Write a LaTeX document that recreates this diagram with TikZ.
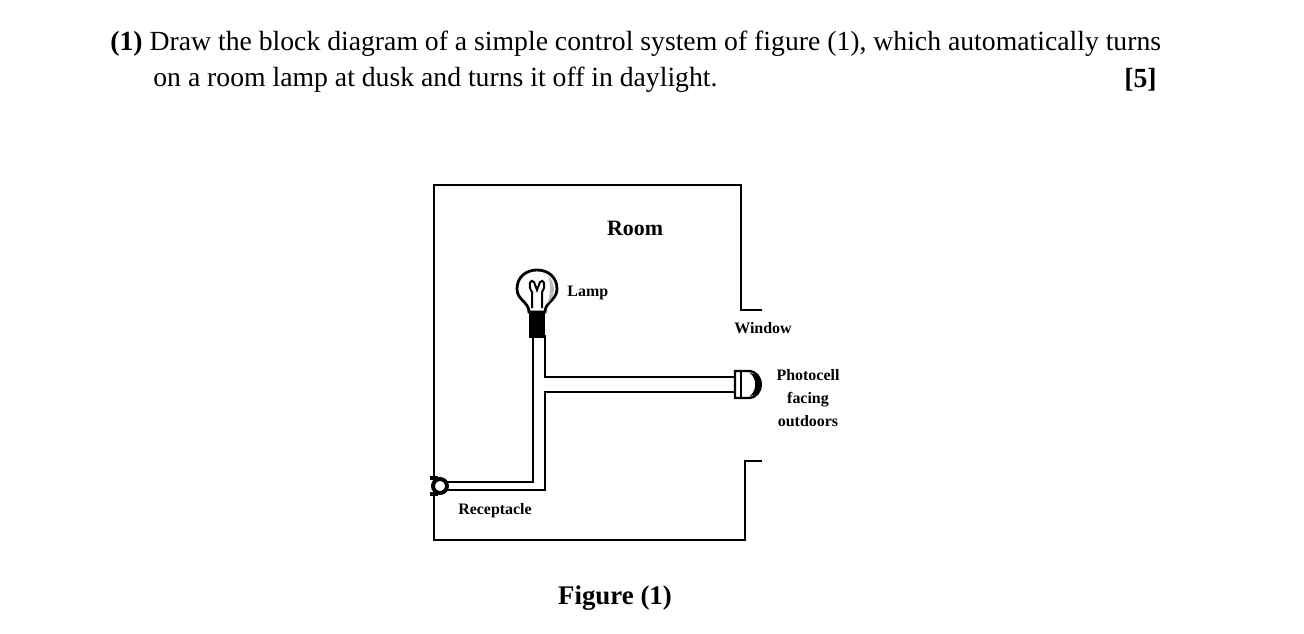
\documentclass[tikz,border=0pt]{standalone}
\usepackage{fontspec}
\setmainfont{Liberation Serif}
\begin{document}
\begin{tikzpicture}[x=0.5bp,y=-0.5bp,
  wall/.style={line width=1.3bp},
  wire/.style={line width=1.1bp},
  lbl/.style={font=\bfseries\fontsize{8}{9.5}\selectfont,inner sep=0},
  txt/.style={font=\fontsize{13.9}{16}\selectfont,inner sep=0,anchor=west}]
\useasboundingbox (0,0) rectangle (1304,634);
% title
\node[txt] (t1) at (110,44) {\textbf{(1)} Draw the block diagram of a simple control system of figure (1), which automatically turns};
\node[txt] (t2) at (153,80) {on a room lamp at dusk and turns it off in daylight.};
\node[txt,anchor=east] (t3) at (1157,80) {\textbf{[5]}};
% room walls
\draw[wall] (762,310) -- (741,310) -- (741,185) -- (434,185) -- (434,540) -- (745,540) -- (745,461) -- (762,461);
% wires
\draw[wire] (533,335) -- (533,482) -- (444,482);
\draw[wire] (545,335) -- (545,377) -- (736,377);
\draw[wire] (736,392) -- (545,392) -- (545,490) -- (444,490);
% lamp
\draw[line width=1.4bp,fill=white] (529,312) .. controls (529,302) and (517,300) .. (517,289)
   .. controls (517,277) and (526,270) .. (537,270) .. controls (548,270) and (557,277) .. (557,289)
   .. controls (557,300) and (545,302) .. (545,312) -- cycle;
\fill[gray!55] (548,276) .. controls (556,282) and (556,296) .. (547,304) .. controls (551,294) and (551,284) .. (548,276) -- cycle;
\draw[line width=1bp] (532,308) -- (532,292) .. controls (527,285) and (531,278) .. (534,282) -- (537,290) -- (540,282) .. controls (543,278) and (547,285) .. (542,292) -- (542,308);
\fill (529,312) rectangle (545,338);
% photocell
\draw[line width=1.2bp,fill=white] (735,371) -- (748,371) .. controls (765,371) and (765,398) .. (748,398) -- (735,398) -- cycle;
\draw[line width=1bp] (741,371) -- (741,398);
\fill (750,373) .. controls (766,376) and (766,393) .. (750,396) .. controls (757,390) and (757,379) .. (750,373) -- cycle;
% receptacle
\draw[line width=1.6bp] (430,478) -- (438,478) (430,494) -- (438,494);
\draw[line width=2bp,fill=white] (440,486) circle (3.5bp);
% labels
\node[font=\bfseries\fontsize{11}{13}\selectfont,inner sep=0] (room) at (635,228) {Room};
\node[lbl,anchor=west] (lamp) at (567,293) {Lamp};
\node[lbl] (win) at (763,328) {Window};
\node[lbl,align=center,font=\bfseries\fontsize{8}{11.5}\selectfont] (pc) at (808,398) {Photocell\\facing\\outdoors};
\node[lbl] (rec) at (495,511) {Receptacle};
\node[font=\bfseries\fontsize{13.5}{15}\selectfont,inner sep=0] (fig) at (615,598) {Figure (1)};
\end{tikzpicture}
\end{document}
